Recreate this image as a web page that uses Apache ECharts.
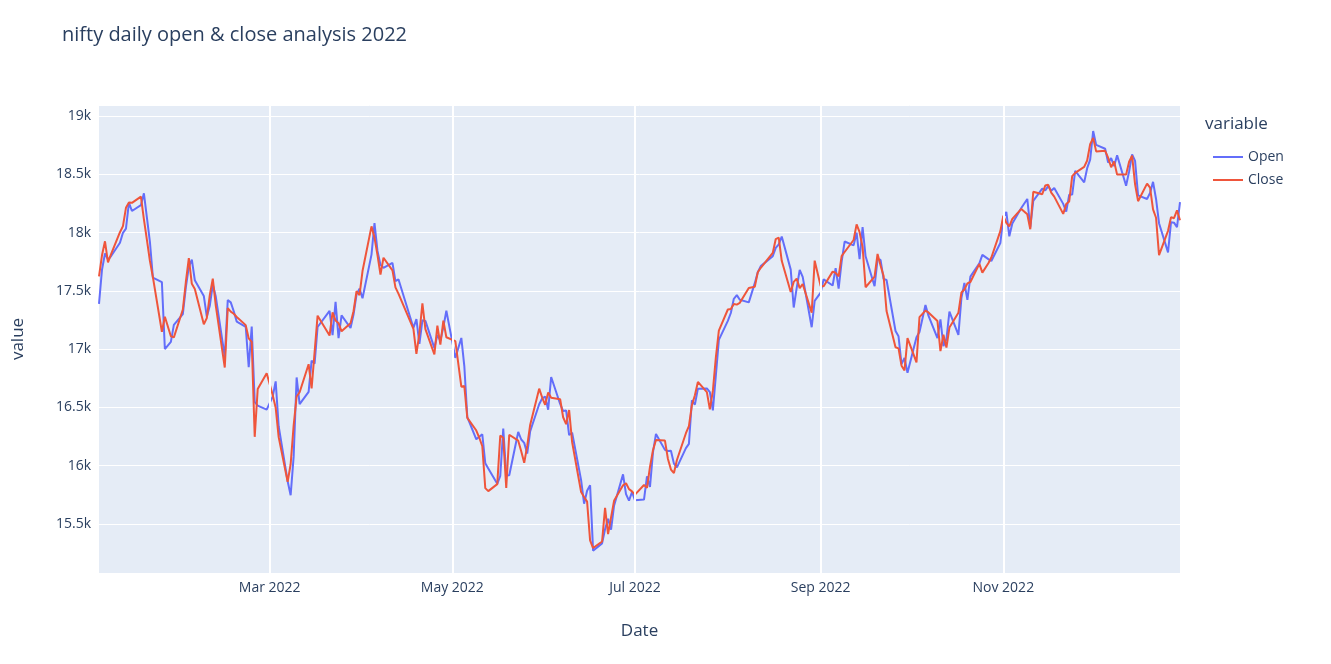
<!DOCTYPE html>
<html>
<head>
<meta charset="utf-8">
<script src="https://cdn.jsdelivr.net/npm/echarts@6/dist/echarts.min.js"></script>
<style>
  html, body { margin: 0; padding: 0; background: #fff; }
  #chart { width: 1331px; height: 664px; }
</style>
</head>
<body>
<div id="chart"></div>
<script>
// trading days 2022 (subset)
var dates = [
  '01-03','01-04','01-05','01-06','01-07','01-10','01-11','01-12','01-13','01-14','01-17','01-18','01-19','01-20','01-21','01-24','01-25','01-27','01-28','01-31',
  '02-01','02-02','02-03','02-04','02-07','02-08','02-09','02-10','02-11','02-14','02-15','02-16','02-17','02-18','02-21','02-22','02-23','02-24','02-25','02-28',
  '03-02','03-03','03-04','03-07','03-08','03-09','03-10','03-11','03-14','03-15','03-16','03-17','03-21','03-22','03-23','03-24','03-25','03-28','03-29','03-30','03-31',
  '04-01','04-04','04-05','04-06','04-07','04-08','04-11','04-12','04-13','04-18','04-19','04-20','04-21','04-22','04-25','04-26','04-27','04-28','04-29',
  '05-02','05-04','05-05','05-06','05-09','05-10','05-11','05-12','05-13','05-16','05-17','05-18','05-19','05-20','05-23','05-24','05-25','05-26','05-27','05-30','05-31',
  '06-01','06-02','06-03','06-06','06-07','06-08','06-09','06-10','06-13','06-14','06-15','06-16','06-17','06-20','06-21','06-22','06-23','06-24','06-27','06-28','06-29','06-30',
  '07-01','07-04','07-05','07-06','07-07','07-08','07-11','07-12','07-13','07-14','07-15','07-18','07-19','07-20','07-21','07-22','07-25','07-26','07-27','07-28','07-29',
  '08-01','08-02','08-03','08-04','08-05','08-08','08-10','08-11','08-12','08-16','08-17','08-18','08-19','08-22','08-23','08-24','08-25','08-26','08-29','08-30',
  '09-01','09-02','09-05','09-06','09-07','09-08','09-09','09-12','09-13','09-14','09-15','09-16','09-19','09-20','09-21','09-22','09-23','09-26','09-27','09-28','09-29','09-30',
  '10-03','10-04','10-06','10-07','10-10','10-11','10-12','10-13','10-14','10-17','10-18','10-19','10-20','10-21','10-24','10-25','10-27','10-28','10-31',
  '11-01','11-02','11-03','11-04','11-07','11-09','11-10','11-11','11-14','11-15','11-16','11-17','11-18','11-21','11-22','11-23','11-24','11-25','11-28','11-29','11-30',
  '12-01','12-02','12-05','12-06','12-07','12-08','12-09','12-12','12-13','12-14','12-15','12-16','12-19','12-20','12-21','12-22','12-23','12-26','12-27','12-28','12-29','12-30'
];

var openVals = [
  17388,17681,17820,17768,17797,17913,17998,18033,18257,18185,18235,18337,18129,17921,17613,17575,17001,17062,17208,17301,
  17529,17706,17767,17591,17456,17279,17372,17554,17451,16933,17420,17401,17325,17236,17192,16846,17194,16548,16516,16481,
  16593,16723,16339,15867,15747,16078,16757,16528,16633,16901,16876,17190,17329,17120,17405,17095,17290,17181,17297,17468,17519,
  17436,17811,18081,17842,17723,17698,17740,17584,17599,17183,17258,17045,17247,17242,17009,17121,17073,17189,17329,
  16925,17096,16855,16416,16227,16248,16270,16021,15977,15845,15912,16318,15917,15918,16290,16225,16196,16105,16296,16527,16578,
  16594,16481,16761,16530,16469,16474,16263,16283,15877,15674,15786,15833,15272,15334,15455,15545,15451,15657,15926,15757,15701,15775,
  15703,15710,15909,15818,16114,16273,16136,16126,16128,16018,15986,16151,16187,16562,16524,16661,16663,16632,16475,16774,17079,
  17243,17310,17432,17463,17423,17401,17566,17659,17712,17797,17868,17898,17966,17682,17357,17525,17679,17620,17188,17414,
  17485,17599,17546,17695,17519,17748,17923,17890,17999,17771,18046,17796,17540,17770,17766,17603,17593,17156,17110,16871,16925,16798,
  17102,17147,17379,17287,17094,17256,17025,17087,17322,17123,17438,17568,17423,17622,17736,17808,17772,17756,17910,
  18130,18177,17968,18078,18211,18288,18044,18272,18376,18362,18398,18358,18382,18246,18179,18325,18326,18528,18430,18552,18625,
  18871,18752,18719,18600,18638,18570,18662,18402,18524,18671,18614,18319,18288,18340,18435,18288,18080,17830,18089,18085,18046,18260
];

var closeVals = [
  17625,17805,17925,17745,17812,18003,18055,18212,18257,18255,18308,18113,17938,17757,17617,17149,17278,17110,17101,17340,
  17576,17780,17560,17516,17213,17266,17463,17605,17374,16842,17352,17322,17304,17276,17206,17092,17063,16248,16658,16794,
  16606,16498,16245,15863,16013,16345,16594,16630,16871,16663,16975,17287,17117,17316,17245,17223,17153,17222,17325,17498,17464,
  17670,18053,17957,17807,17639,17784,17675,17530,17476,17174,16959,17136,17392,17172,16954,17201,17038,17245,17102,
  17069,16678,16683,16411,16302,16240,16167,15808,15782,15842,16259,16240,15809,16266,16215,16125,16025,16170,16352,16661,16585,
  16523,16628,16584,16570,16416,16356,16478,16202,15774,15732,15692,15360,15294,15350,15638,15413,15557,15699,15832,15850,15799,15780,
  15752,15835,15810,15990,16133,16220,16216,16058,15967,15938,16049,16279,16340,16520,16605,16719,16631,16484,16642,16930,17158,
  17340,17345,17388,17382,17397,17525,17535,17659,17698,17825,17944,17957,17758,17490,17577,17605,17523,17559,17313,17759,
  17542,17539,17665,17655,17624,17798,17833,17936,18070,18003,17877,17531,17622,17816,17718,17630,17327,17016,17007,16858,16818,17094,
  16887,17274,17331,17315,17241,16983,17124,17014,17185,17312,17486,17512,17564,17576,17731,17656,17737,17786,18012,
  18145,18083,18053,18117,18203,18157,18028,18350,18329,18403,18410,18343,18308,18160,18244,18267,18484,18512,18563,18618,18758,
  18812,18696,18701,18642,18560,18609,18497,18497,18608,18660,18414,18269,18420,18385,18199,18127,17807,18015,18132,18123,18191,18105
];

var xTicks = ['2022-03-01', '2022-05-01', '2022-07-01', '2022-09-01', '2022-11-01'];
var xTickLabels = ['Mar 2022', 'May 2022', 'Jul 2022', 'Sep 2022', 'Nov 2022'];

var font = '"Open Sans", "Noto Sans", sans-serif';
var ink = '#2a3f5f';

function pairs(vals) {
  return dates.map(function (d, i) { return ['2022-' + d, vals[i]]; });
}

var chart = echarts.init(document.getElementById('chart'));

chart.setOption({
  animation: false,
  title: {
    text: 'nifty daily open & close analysis 2022',
    left: 57, top: 20,
    textStyle: { fontFamily: font, fontSize: 20, fontWeight: 'normal', color: ink }
  },
  legend: {
    data: ['Open', 'Close'],
    orient: 'vertical',
    left: 1208, top: 145,
    itemGap: 9,
    icon: 'rect', itemWidth: 30, itemHeight: 2,
    textStyle: { fontFamily: font, fontSize: 14, color: ink }
  },
  graphic: [{
    type: 'text', left: 1205, top: 116,
    style: { text: 'variable', font: '17px ' + font, fill: ink }
  }],
  grid: {
    left: 99, right: 151, top: 105, bottom: 91,
    show: true, backgroundColor: '#E5ECF6', borderWidth: 0
  },
  xAxis: {
    type: 'time',
    min: '2022-01-03', max: '2022-12-30',
    name: 'Date', nameLocation: 'middle', nameGap: 50,
    nameTextStyle: { fontFamily: font, fontSize: 17, color: ink },
    axisLine: { show: false }, axisTick: { show: false },
    axisLabel: { show: false }, splitLine: { show: false }
  },
  yAxis: {
    type: 'value',
    min: 15080, max: 19094, splitNumber: 8,
    name: 'value', nameLocation: 'middle', nameGap: 72,
    nameTextStyle: { fontFamily: font, fontSize: 17, color: ink },
    axisLine: { show: false }, axisTick: { show: false },
    axisLabel: {
      showMinLabel: false, showMaxLabel: false,
      fontFamily: font, fontSize: 14, color: ink, margin: 8,
      formatter: function (v) { return (v / 1000) + 'k'; }
    },
    splitLine: { lineStyle: { color: '#fff', width: 1 } }
  },
  series: [{
    name: 'grid',
    type: 'line',
    data: [],
    z: 1,
    markLine: {
      silent: true, symbol: 'none', animation: false,
      lineStyle: { color: '#fff', width: 2, type: 'solid' },
      label: {
        position: 'start', distance: 8,
        fontFamily: font, fontSize: 14, color: ink,
        formatter: function (p) { return xTickLabels[xTicks.indexOf(p.data.xAxis)] || ''; }
      },
      data: xTicks.map(function (t) { return { xAxis: t }; })
    }
  }, {
    name: 'Open',
    type: 'line',
    z: 3,
    showSymbol: false,
    data: pairs(openVals),
    itemStyle: { color: '#636efa' },
    lineStyle: { color: '#636efa', width: 2 }
  }, {
    name: 'Close',
    type: 'line',
    z: 4,
    showSymbol: false,
    data: pairs(closeVals),
    itemStyle: { color: '#EF553B' },
    lineStyle: { color: '#EF553B', width: 2 }
  }]
});
</script>
</body>
</html>
